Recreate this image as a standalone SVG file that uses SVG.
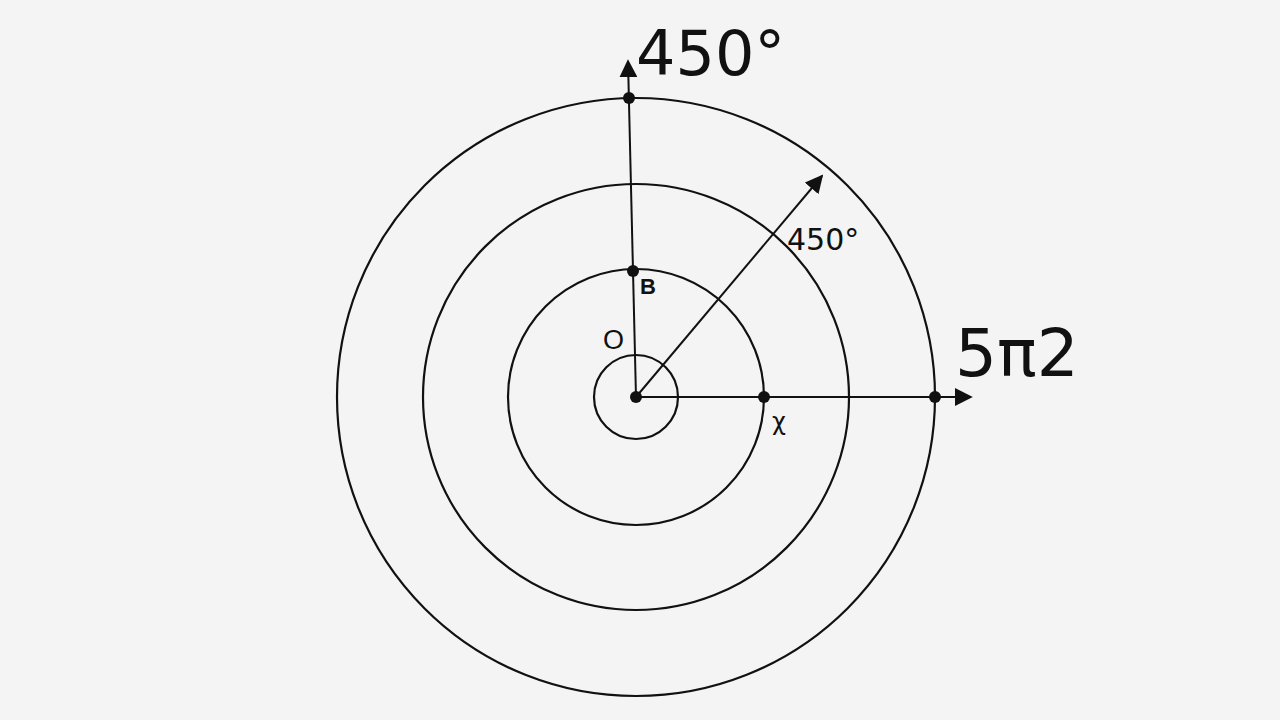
<svg xmlns="http://www.w3.org/2000/svg" width="1280" height="720" viewBox="0 0 1280 720">
<style>
.c{fill:none;stroke:#111;stroke-width:2.2}
.l{stroke:#111;stroke-width:2;fill:none}
.d{fill:#111}
.t{font-family:"DejaVu Sans","Noto Sans",sans-serif;fill:#111}
.s{font-family:"Liberation Sans",Arial,sans-serif;fill:#111}
</style>
<defs>
<marker id="a2" viewBox="0 0 10 10" refX="9" refY="5" markerWidth="18" markerHeight="18" markerUnits="userSpaceOnUse" orient="auto"><path d="M0,0 L10,5 L0,10 z" fill="#111"/></marker>
</defs>
<rect width="1280" height="720" fill="#f4f4f4"/>
<g id="circles">
<circle class="c" cx="636" cy="397" r="299"/>
<circle class="c" cx="636" cy="397" r="213"/>
<circle class="c" cx="636" cy="397" r="128"/>
<circle class="c" cx="636" cy="397" r="42"/>
</g>
<g id="connectors">
<line class="l" x1="636" y1="397" x2="628" y2="61" marker-end="url(#a2)"/>
<line class="l" x1="636" y1="397" x2="822" y2="176" marker-end="url(#a2)"/>
<line class="l" x1="636" y1="397" x2="971" y2="397" marker-end="url(#a2)"/>
</g>
<g id="points">
<circle class="d" cx="636" cy="397" r="6"/>
<circle class="d" cx="633" cy="271" r="6"/>
<circle class="d" cx="629" cy="98" r="6"/>
<circle class="d" cx="764" cy="397" r="6"/>
<circle class="d" cx="935" cy="397" r="6"/>
</g>
<g id="labels">
<text class="t" x="636" y="75" font-size="62">450°</text>
<text class="t" x="787" y="250" font-size="30">450°</text>
<text class="t" x="955" y="376" font-size="66">5π2</text>
<text class="s" x="640" y="294" font-size="22" font-weight="bold">B</text>
<text class="s" x="603" y="349" font-size="27">O</text>
<text class="t" x="772" y="430" font-size="24">χ</text>
</g>
</svg>
